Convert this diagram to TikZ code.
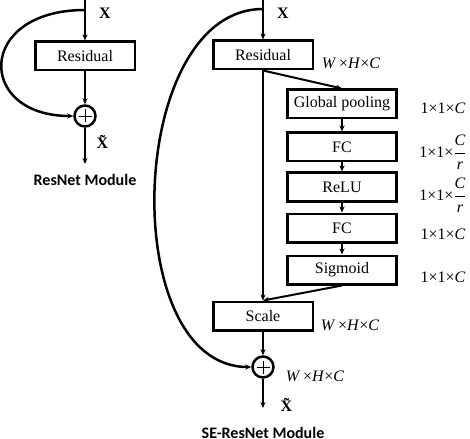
\documentclass[tikz,border=0pt]{standalone}
\usepackage{fontspec}
\setmainfont{Liberation Serif}
\newfontfamily\titlefont{Carlito}
\usetikzlibrary{arrows.meta}
\newcommand{\cfrac}{$\displaystyle\frac{\mbox{\itshape C}}{\mbox{\itshape r}}$}
\begin{document}
\begin{tikzpicture}[x=1pt,y=-1pt,
  every node/.style={font=\fontsize{16}{19}\selectfont},
  box/.style={draw,line width=2.5pt,inner sep=0pt,minimum height=28.5pt},
  bigbox/.style={box,minimum width=99.5pt},
  smallbox/.style={box,minimum width=109pt},
  addnode/.style={draw,circle,line width=2.5pt,minimum size=21pt,inner sep=0pt,
    path picture={\draw[line width=0.9pt]
      ([xshift=-6.5pt]path picture bounding box.center) -- ([xshift=6.5pt]path picture bounding box.center)
      ([yshift=-6.5pt]path picture bounding box.center) -- ([yshift=6.5pt]path picture bounding box.center);}},
  arr/.style={-{Stealth[length=6pt,width=5pt]},line width=2pt},
  curvearr/.style={arr,line width=2.5pt},
  dimlabel/.style={inner sep=0pt},
  titlelabel/.style={font=\fontsize{16}{19}\titlefont\bfseries},
]
\useasboundingbox (0,0) rectangle (470,438);

% ---------- ResNet module ----------
\coordinate (top1) at (85,0);
\coordinate (split1) at (85,10);
\node[bigbox] (res1) at (85,56) {Residual};
\node[addnode] (add1) at (85,116) {};
\coordinate (out1) at (85,164);
\node (x1) at (105,13) {\textbf{X}};
\node (xt1) at (105,142) {\textbf{\~X}};
\node[titlelabel] (t1) at (85,180) {ResNet Module};

\draw[arr] (top1) -- (res1.north);
\draw[arr] (res1.south) -- (add1.north);
\draw[arr] (add1.south) -- (out1);
\draw[curvearr] (split1) .. controls (-24,10) and (-24,116) .. (add1.west);

% ---------- SE-ResNet module ----------
\coordinate (top2) at (263,0);
\coordinate (split2) at (263,9);
\node[bigbox] (res2) at (263,55) {Residual};
\node[smallbox] (gp) at (342,104) {Global pooling};
\node[smallbox] (fc1) at (342,147) {FC};
\node[smallbox] (relu) at (342,187) {ReLU};
\node[smallbox] (fc2) at (342,228) {FC};
\node[smallbox] (sig) at (342,270) {Sigmoid};
\node[bigbox] (scale) at (263,316) {Scale};
\node[addnode] (add2) at (263,367) {};
\coordinate (out2) at (263,408);

\node (x2) at (283,13) {\textbf{X}};
\node (xt2) at (289,405) {\textbf{\~X}};
\node[titlelabel] (t2) at (263,433) {SE-ResNet Module};

\node[dimlabel] (d1) at (351,63) {\textit{W}\,×\textit{H}×\textit{C}};
\node[dimlabel] (d2) at (443,108) {1×1×\textit{C}};
\node[dimlabel] (d3) at (443,152) {1×1×\cfrac};
\node[dimlabel] (d4) at (443,195) {1×1×\cfrac};
\node[dimlabel] (d5) at (443,234) {1×1×\textit{C}};
\node[dimlabel] (d6) at (443,277) {1×1×\textit{C}};
\node[dimlabel] (d7) at (350,325) {\textit{W}\,×\textit{H}×\textit{C}};
\node[dimlabel] (d8) at (315,376) {\textit{W}\,×\textit{H}×\textit{C}};

\draw[arr] (top2) -- (res2.north);
\draw[arr] (res2.south) -- (gp.north);
\draw[arr] (gp) -- (fc1);
\draw[arr] (fc1) -- (relu);
\draw[arr] (relu) -- (fc2);
\draw[arr] (fc2) -- (sig);
\draw[arr] (res2.south) -- (scale.north);
\draw[arr] (sig.south) -- (scale.north);
\draw[arr] (scale.south) -- (add2.north);
\draw[arr] (add2.south) -- (out2);
\draw[curvearr] (split2) .. controls (126,9) and (116,367) .. (add2.west);
\end{tikzpicture}
\end{document}
